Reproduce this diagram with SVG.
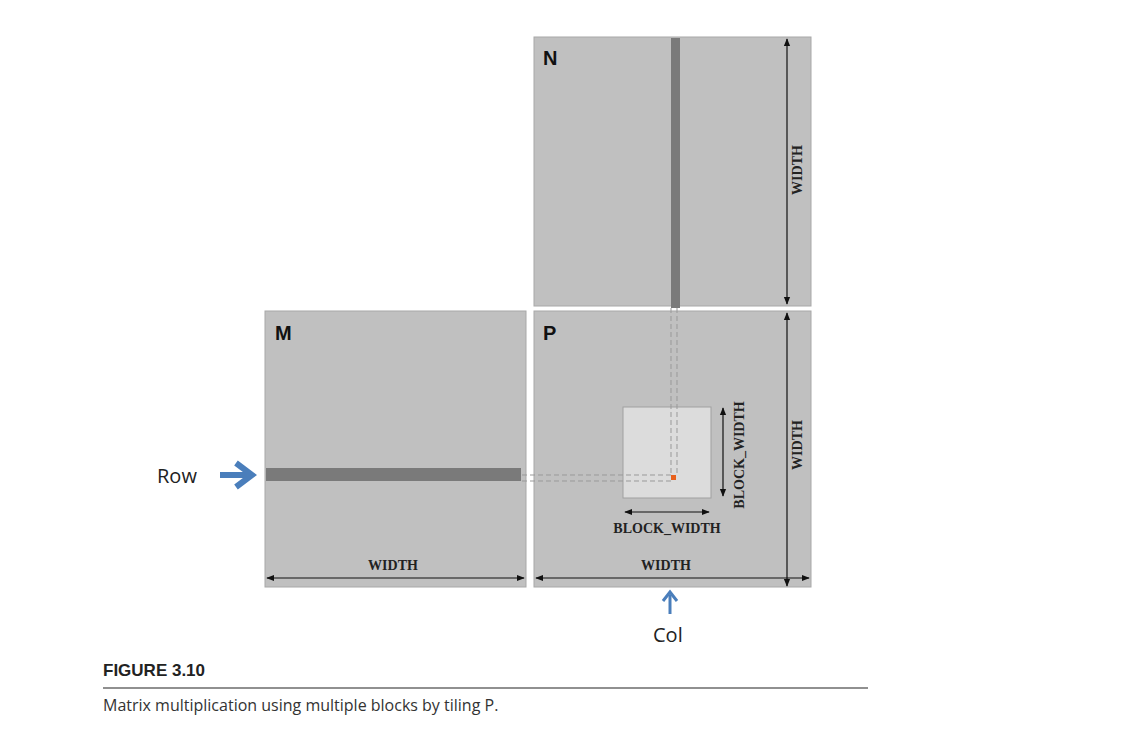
<svg xmlns="http://www.w3.org/2000/svg" width="1128" height="746" viewBox="0 0 1128 746">
<style>
.mat{fill:#c0c0c0;stroke:#a8a8a8;stroke-width:1}
.lbl{font-family:"Liberation Sans",Arial,sans-serif;font-weight:bold;font-size:20px;fill:#111}
.dim{font-family:"Liberation Serif",serif;font-weight:bold;font-size:14px;fill:#222}
.dl{stroke:#111;stroke-width:1.2;fill:none;marker-start:url(#ah);marker-end:url(#ah)}
.dash{stroke:#999;stroke-width:1;stroke-dasharray:5,3;fill:none}
.side{font-family:"Open Sans","Liberation Sans",sans-serif;font-size:20px;fill:#222}
</style>
<defs>
<marker id="ah" viewBox="0 0 10 10" refX="9" refY="5" markerWidth="8" markerHeight="8" orient="auto-start-reverse" markerUnits="userSpaceOnUse"><path d="M0,1 L10,5 L0,9 z" fill="#111"/></marker>
</defs>
<rect width="1128" height="746" fill="#fff"/>
<g id="N"><rect class="mat" x="534" y="37" width="277" height="269"/><rect x="671" y="38" width="9" height="270" fill="#7a7a7a"/><text class="lbl" x="543" y="65">N</text></g>
<g id="M"><rect class="mat" x="265" y="311" width="261" height="276"/><rect x="266" y="468" width="255" height="13" fill="#7a7a7a"/><text class="lbl" x="275" y="340">M</text></g>
<g id="P"><rect class="mat" x="534" y="311" width="277" height="276"/><text class="lbl" x="543" y="340">P</text></g>
<g id="block"><rect x="623" y="407" width="88" height="91" fill="#dcdcdc" stroke="#a0a0a0"/></g>
<g id="connectors">
<path class="dash" d="M522 475H672M522 481H672M671 308V476M677 308V476"/>
<rect x="671" y="475" width="5" height="5" fill="#e8601c"/>
<path class="dl" d="M267 578H524"/>
<path class="dl" d="M536 578H809"/>
<path class="dl" d="M787 39V304"/>
<path class="dl" d="M787 313V586"/>
<path class="dl" d="M625 512H709"/>
<path class="dl" d="M723 408V496"/>
<path d="M220 475H247" stroke="#4a7ebb" stroke-width="6" fill="none"/>
<path d="M236 463L252 475L236 487" stroke="#4a7ebb" stroke-width="6" fill="none" stroke-linejoin="miter"/>
<path d="M670 614V595" stroke="#4a7ebb" stroke-width="3" fill="none"/>
<path d="M663 601L670 592L677 601" stroke="#4a7ebb" stroke-width="3" fill="none"/>
</g>
<text class="dim" x="393" y="570" text-anchor="middle">WIDTH</text>
<text class="dim" x="666" y="570" text-anchor="middle">WIDTH</text>
<text class="dim" x="667" y="533" text-anchor="middle">BLOCK_WIDTH</text>
<text class="dim" transform="translate(802,170) rotate(-90)" text-anchor="middle">WIDTH</text>
<text class="dim" transform="translate(802,445) rotate(-90)" text-anchor="middle">WIDTH</text>
<text class="dim" transform="translate(744,455) rotate(-90)" text-anchor="middle">BLOCK_WIDTH</text>
<text class="side" x="157" y="483">Row</text>
<text class="side" x="653" y="642">Col</text>
<text x="103" y="676" font-family="'Liberation Sans Narrow','Liberation Sans',sans-serif" font-weight="bold" font-size="17" fill="#222">FIGURE 3.10</text>
<line x1="103" y1="688" x2="868" y2="688" stroke="#222" stroke-width="1.2"/>
<text x="103" y="711" font-family="'Open Sans','Liberation Sans',sans-serif" font-size="16" fill="#333">Matrix multiplication using multiple blocks by tiling P.</text>
</svg>
